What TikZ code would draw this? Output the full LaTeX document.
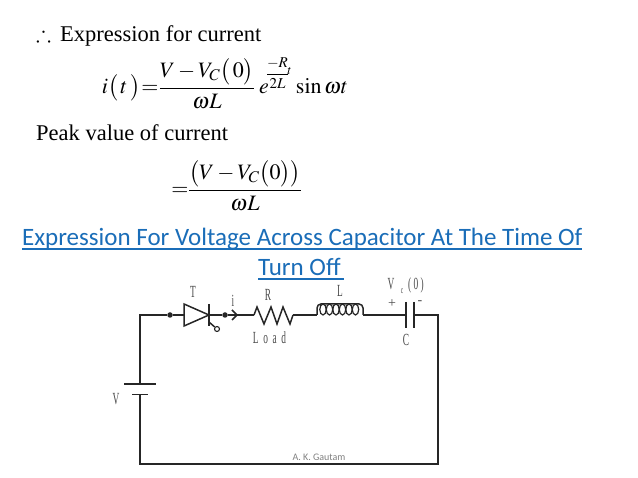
\documentclass[tikz,border=0pt]{standalone}
\usepackage{amsmath,amssymb}
\usepackage[no-math]{fontspec}
\usepackage{mathptmx}
\setmainfont{Liberation Serif}
\newfontfamily\linkfont{Carlito}
\definecolor{linkblue}{HTML}{1A6DB8}
\definecolor{labelgray}{HTML}{4A4A4A}
\newcommand{\numstrut}{\rule[-6pt]{0pt}{6pt}}
\tikzset{
	textline/.style={anchor=base west, inner sep=0pt, font=\fontsize{22.5}{26}\selectfont},
	formula/.style={anchor=base, inner sep=0pt, font=\fontsize{22}{26}\selectfont},
	expo/.style={anchor=base, inner sep=0pt, font=\fontsize{15}{16}\selectfont},
	linkline/.style={anchor=base west, inner sep=0pt, text=linkblue, font=\linkfont\fontsize{25}{28}\selectfont},
	linkrule/.style={linkblue, line width=1.1pt},
	wire/.style={line width=1.5pt, black!85},
	coilwire/.style={line width=1.2pt, black!85},
	cirlabel/.style={inner sep=0pt, text=labelgray, font=\fontsize{17}{18}\selectfont, xscale=0.55},
	signlabel/.style={inner sep=0pt, text=labelgray, font=\fontsize{14}{15}\selectfont},
	junction/.style={circle, fill=black!85, inner sep=0pt, minimum size=5.5pt},
}
\begin{document}
\begin{tikzpicture}[x=1pt, y=-1pt]
	\useasboundingbox (0,0) rectangle (638,478);

	\node[textline] (therefore) at (36,42) {$\therefore$};
	\node[textline] (expression) at (60,42) {Expression for current};
	\node[formula] (currentlhs) at (121,93.5) {$i\bigl(\,t\,\bigr)$};
	\node[formula] (currenteq) at (150,93.5) {$=$};
	\node[formula] (currentfrac) at (207,93.5) {$\dfrac{V-V_C\bigl(\,0\bigr)\numstrut}{\omega L}$};
	\node[formula] (currente) at (264,93.5) {$e$};
	\node[expo] (currentexp) at (277.5,78) {$\dfrac{-R}{2L}$};
	\node[expo, font=\fontsize{13}{14}\selectfont] (currentt) at (289.5,75) {$t$};
	\node[formula] (currentsin) at (322,93.5) {$\sin\omega t$};
	\node[textline] (peak) at (36,141) {Peak value of current};
	\node[formula] (peakeq) at (180,195.5) {$=$};
	\node[formula] (peakfrac) at (245,195.5) {$\dfrac{\bigl(V-V_C\bigl(0\bigr)\bigr)\numstrut}{\omega L}$};
	\node[linkline] (title1) at (22,246) {Expression For Voltage Across Capacitor At The Time Of};
	\node[linkline] (title2) at (258,276) {Turn Off };
	\draw[linkrule] (22,249) -- (582,249);
	\draw[linkrule] (258,279) -- (344,279);

	\coordinate (topleft) at (140,315);
	\coordinate (topright) at (438,315);
	\coordinate (botleft) at (140,464);
	\coordinate (botright) at (438,464);
	\coordinate (batlong) at (140,384);
	\coordinate (batshort) at (140,394.5);
	\node[junction] (dot1) at (170,315) {};
	\node[junction] (dot2) at (225,315) {};
	\coordinate (scrin) at (184,315);
	\coordinate (scrout) at (209,315);
	\coordinate (resin) at (254,315);
	\coordinate (resout) at (293,315);
	\coordinate (indin) at (317,315);
	\coordinate (indout) at (363,315);
	\coordinate (capin) at (406,315);
	\coordinate (capout) at (414,315);
	\node[circle, draw=black!85, line width=1.1pt, inner sep=0pt, minimum size=5pt] (gate) at (217,329) {};

	\draw[wire] (batlong) -- (topleft) -- (dot1) -- (scrin);
	\draw[wire] (scrout) -- (dot2) -- (resin);
	\draw[wire] (resin) -- (257,307) -- (264,324) -- (271,307) -- (277,324) -- (283,307) -- (290,324) -- (resout);
	\draw[wire] (resout) -- (indin);
	\draw[wire, rounded corners=4pt] (indin) -- (indin |- 0,304) -- (indout |- 0,304) -- (indout);
	\foreach \coilx in {323,329.5,336,342.5,349,355.5}
		\draw[coilwire] (\coilx,309.5) ellipse [x radius=3.2, y radius=5.5];
	\draw[wire] (indout) -- (capin);
	\draw[wire] (capout) -- (topright) -- (botright) -- (botleft) -- (batshort);

	\draw[wire] (scrin |- 0,304) -- (scrout) -- (scrin |- 0,326) -- cycle;
	\draw[wire] (scrout |- 0,304) -- (scrout |- 0,326);
	\draw[wire] (209,322) -- (gate);
	\draw[wire] (232,310) -- (237,315) -- (232,320);
	\draw[wire] (capin |- 0,302) -- (capin |- 0,328);
	\draw[wire] (capout |- 0,302) -- (capout |- 0,328);
	\draw[wire] (124,384) -- (156,384);
	\draw[wire] (132,394.5) -- (148,394.5);

	\node[cirlabel] (labelt) at (193,292) {T};
	\node[cirlabel] (labeli) at (233,301) {i};
	\node[cirlabel] (labelr) at (268,295) {R};
	\node[cirlabel] (labelload) at (269.5,338) {L\ \ o\ \ a\ \ d};
	\node[cirlabel] (labell) at (340,291) {L};
	\node[cirlabel] (labelv0) at (391,284) {V};
	\node[cirlabel, font=\fontsize{10}{11}\selectfont] (labelc0) at (402,291) {c};
	\node[cirlabel] (labelzero) at (416,285) {(\ 0\ )};
	\node[signlabel] (labelplus) at (392,304) {+};
	\node[signlabel] (labelminus) at (420,303) {-};
	\node[cirlabel] (labelc) at (406,340) {C};
	\node[cirlabel] (labelv) at (116,399) {V};
	\node[inner sep=0pt, text=black!50, font=\linkfont\fontsize{10}{11}\selectfont] (credit) at (319,457) {A. K. Gautam};
\end{tikzpicture}
\end{document}
